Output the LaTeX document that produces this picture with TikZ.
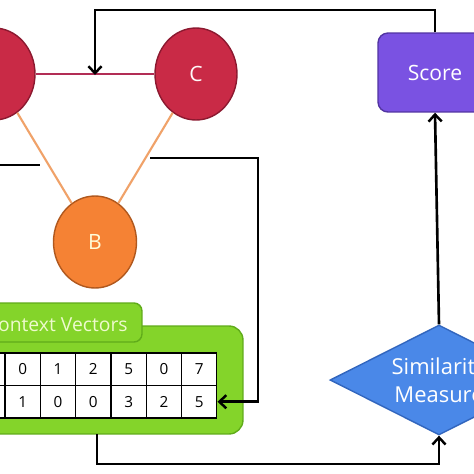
\documentclass[tikz,border=0pt]{standalone}
\usepackage{fontspec}
\setmainfont{Open Sans}
\usetikzlibrary{shapes.geometric,arrows.meta}
\definecolor{circred}{RGB}{201,42,70}
\definecolor{circredd}{RGB}{140,25,48}
\definecolor{acline}{RGB}{178,45,85}
\definecolor{borange}{RGB}{245,130,52}
\definecolor{borangeD}{RGB}{176,88,30}
\definecolor{oline}{RGB}{240,162,105}
\definecolor{lime}{RGB}{132,212,42}
\definecolor{limeD}{RGB}{96,172,26}
\definecolor{limetext}{RGB}{238,250,205}
\definecolor{purp}{RGB}{122,82,226}
\definecolor{purpD}{RGB}{82,52,162}
\definecolor{blu}{RGB}{74,136,232}
\definecolor{bluD}{RGB}{50,102,190}
\tikzset{
  redcirc/.style={ellipse,draw=circredd,fill=circred,line width=0.8pt,minimum width=1.64cm,minimum height=1.84cm,text=white!90!pink,font=\fontsize{12}{14}\selectfont},
  orangecirc/.style={ellipse,draw=borangeD,fill=borange,line width=0.8pt,minimum width=1.66cm,minimum height=1.84cm,text=yellow!15!white,font=\fontsize{12}{14}\selectfont},
  arr/.style={line width=1.5pt,black,-{Straight Barb[length=4pt,width=7.5pt,line width=1.4pt]}},
  blk/.style={line width=1.5pt,black},
  oedge/.style={line width=1.2pt,oline},
  cell/.style={draw=black,fill=white,line width=0.6pt,minimum width=0.7067cm,minimum height=0.65cm,inner sep=0pt,font=\fontsize{8.7}{10}\selectfont},
  limebox/.style={draw=limeD,fill=lime,line width=0.8pt,rounded corners=0.28cm},
}
\begin{document}
\begin{tikzpicture}[x=0.02cm,y=-0.02cm]
\fill[white] (0,0) rectangle (474,474);
\useasboundingbox (0,0) rectangle (474,474);

% coordinates
\coordinate (topy) at (95,10);
\coordinate (acmid) at (95,75);
\coordinate (l1) at (-10,165);
\coordinate (l2) at (40,165);
\coordinate (r1) at (150,158);
\coordinate (r2) at (258,158);
\coordinate (bx) at (97,434);
\coordinate (b1) at (97,464);

% nodes
\node[redcirc] (A) at (-6,74) {};
\node[redcirc] (C) at (196,74) {C};
\node[orangecirc] (B) at (95,242) {B};

% edges of graph
\draw[acline,line width=1.2pt] (A) -- (C);
\draw[oedge] (A) -- (B);
\draw[oedge] (C) -- (B);

% green context box
\node[limebox,minimum width=5.66cm,minimum height=2.16cm] (gbox) at (101.5,380) {};
\node[limebox,rounded corners=0.16cm,minimum width=3.64cm,minimum height=0.78cm] (tab) at (51,322.5) {};
\node[anchor=base east,text=limetext,font=\fontsize{11}{13}\selectfont,inner sep=0pt] (tabtext) at (128,331) {Context Vectors};

% table cells
\node[cell] (c0) at (-12.7,369.25) {};
\node[cell] (c1) at (22.7,369.25) {0};
\node[cell] (c2) at (58,369.25) {1};
\node[cell] (c3) at (93.3,369.25) {2};
\node[cell] (c4) at (128.7,369.25) {5};
\node[cell] (c5) at (164,369.25) {0};
\node[cell] (c6) at (199.3,369.25) {7};
\node[cell] (d0) at (-12.7,401.75) {};
\node[cell] (d1) at (22.7,401.75) {1};
\node[cell] (d2) at (58,401.75) {0};
\node[cell] (d3) at (93.3,401.75) {0};
\node[cell] (d4) at (128.7,401.75) {3};
\node[cell] (d5) at (164,401.75) {2};
\node[cell] (d6) at (199.3,401.75) {5};

% score and similarity
\node[draw=purpD,fill=purp,line width=0.8pt,rounded corners=0.2cm,minimum width=2.28cm,minimum height=1.58cm,text=white,font=\fontsize{12}{14}\selectfont] (score) at (435,72.5) {Score};
\node[diamond,draw=bluD,fill=blu,line width=0.8pt,minimum width=4.36cm,minimum height=2.2cm,inner sep=0pt,aspect=2,text=white,align=center,font=\fontsize{12.5}{16}\selectfont] (sim) at (439,380) {Similarity\\Measure};

% connectors
\draw[arr] (score.north) |- (topy) -- (acmid);
\draw[arr] (sim.north) -- (score.south);
\draw[blk] (l1) -- (l2);
\draw[arr] (r1) -- (r2) |- (d6.east);
\draw[arr] (bx) -- (b1) -| (sim.south);
\end{tikzpicture}
\end{document}
